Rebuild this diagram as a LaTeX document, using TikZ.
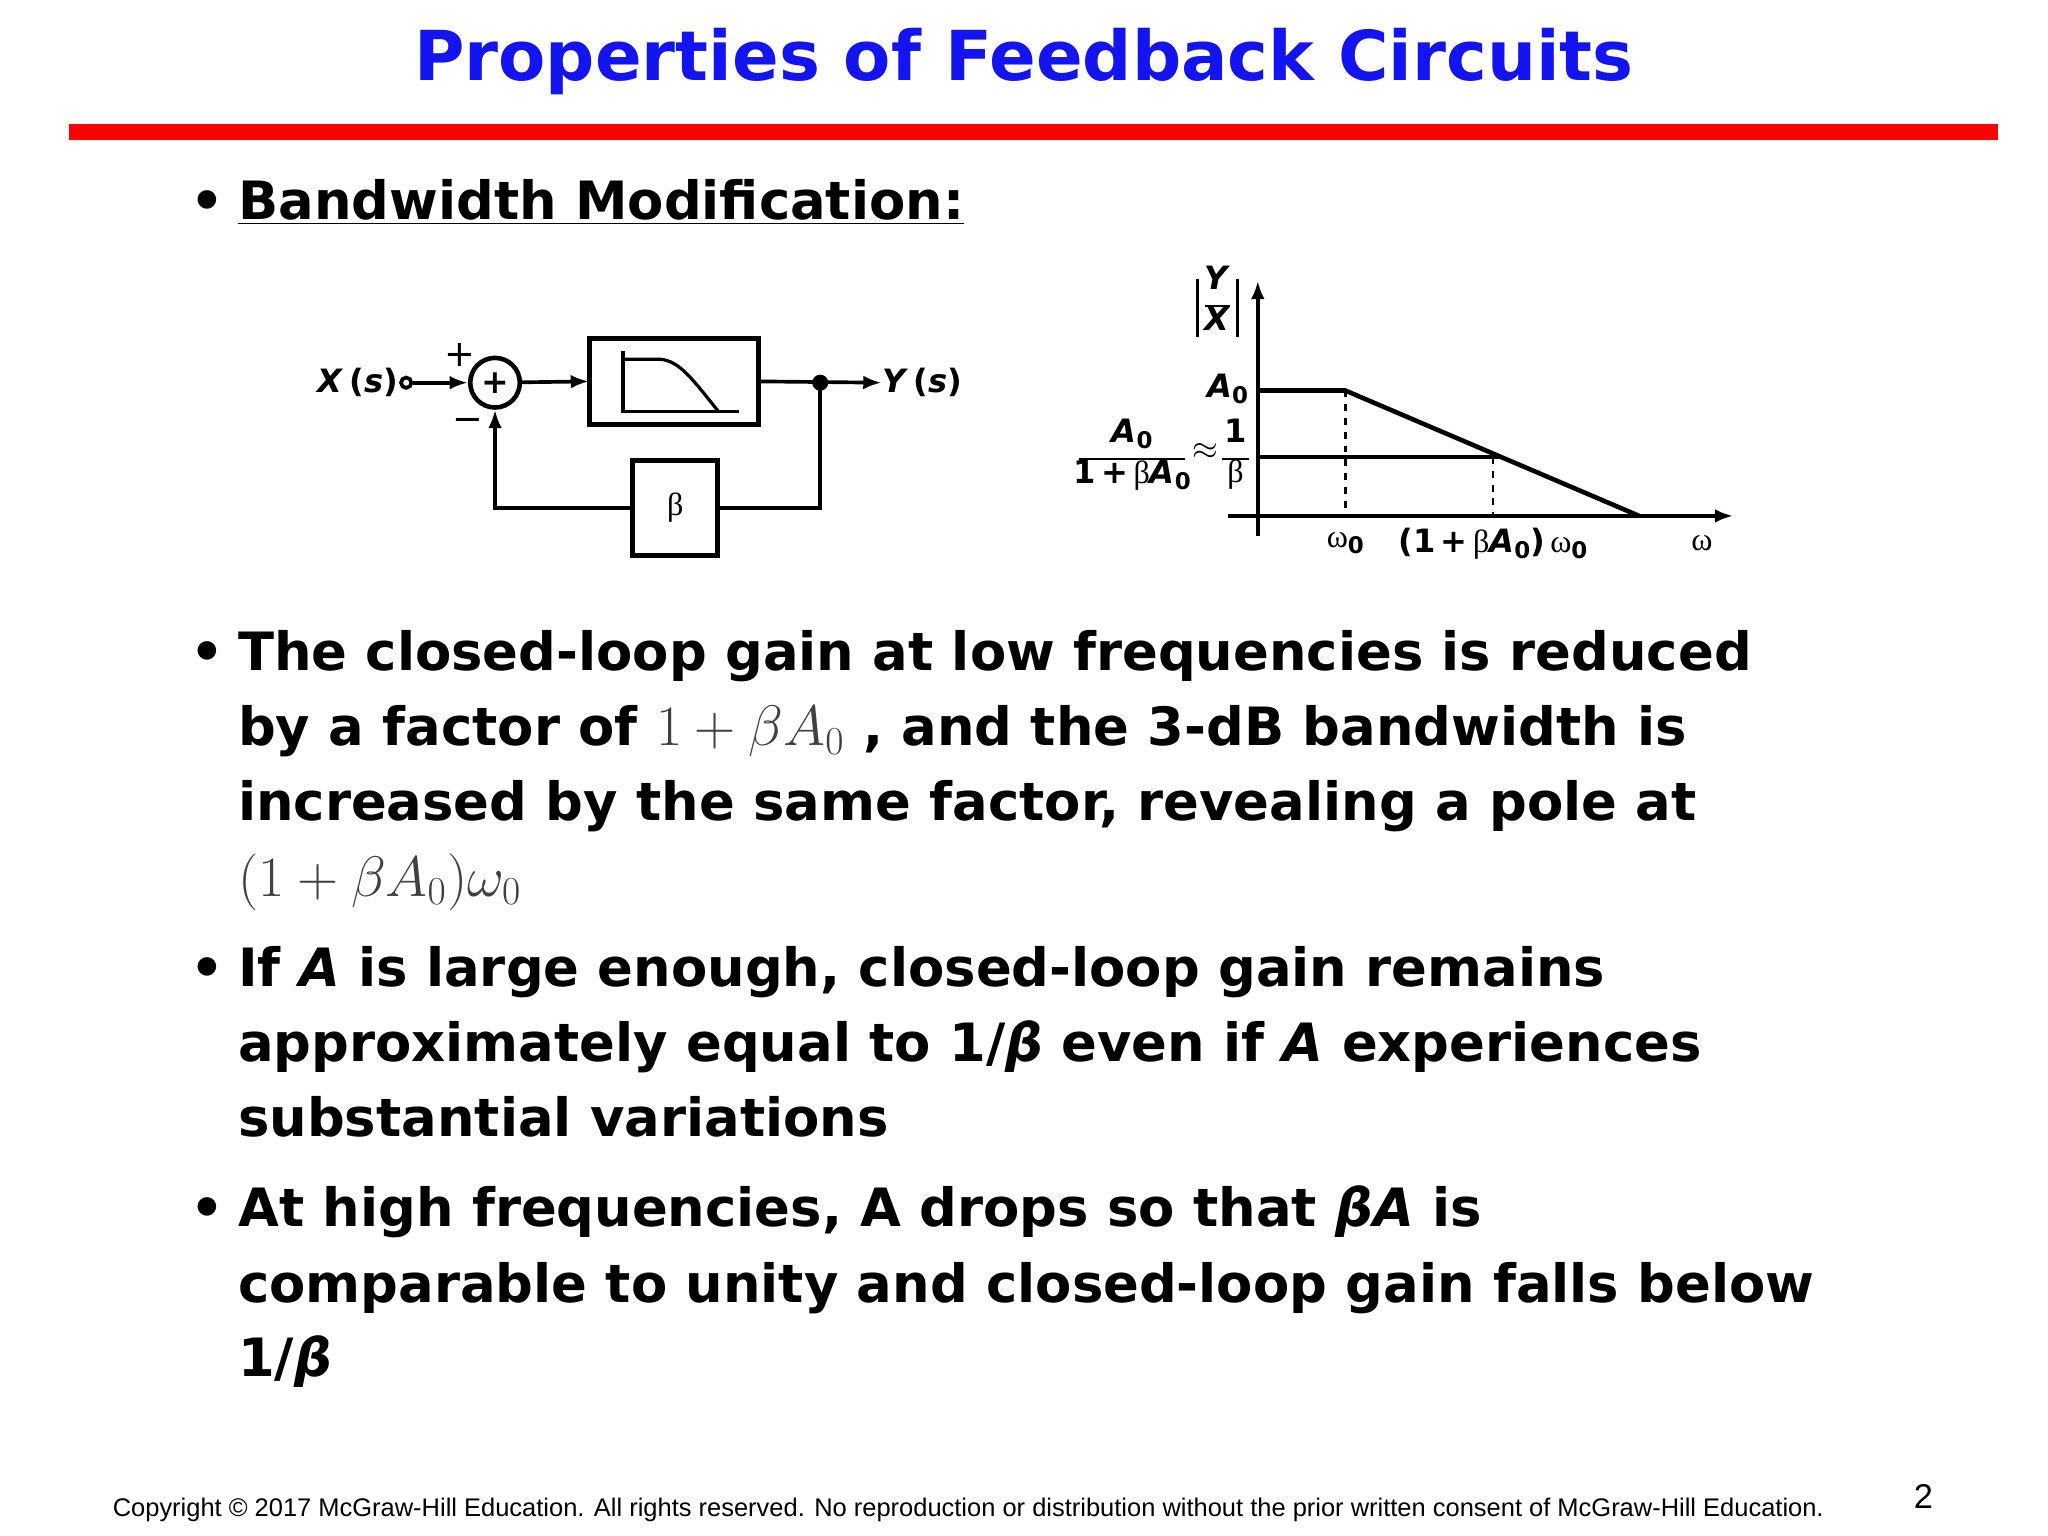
\documentclass[tikz,border=0pt]{standalone}
\usepackage{fontspec}
\setmainfont{DejaVu Sans}
\newfontfamily\arialf{Liberation Sans}
\newfontfamily\serifb{Liberation Serif}
\usetikzlibrary{arrows.meta}
\definecolor{titleblue}{RGB}{20,20,240}
\newcommand\myzero{\raisebox{-0.35ex}{\fontsize{10}{10}\selectfont 0}}
\newcommand\myb{{\serifb\mdseries β}}
\newcommand\myw{{\serifb\mdseries ω}}
\renewcommand\arraystretch{0.85}
\begin{document}
\begin{tikzpicture}[x=0.02cm,y=-0.02cm,
  body/.style={anchor=base west,inner sep=0,font=\fontsize{23}{27}\selectfont\bfseries},
  dlab/.style={inner sep=0,font=\fontsize{14}{16}\selectfont\bfseries},
  wire/.style={line width=1.6pt},
  arr/.style={wire,-{Latex[length=8pt,width=6pt]}}]
\useasboundingbox (0,0) rectangle (1568,1176);
\fill[white] (0,0) rectangle (1568,1176);
% title
\node[font=\fontsize{30}{34}\selectfont\bfseries,text=titleblue,inner sep=0] (title) at (784,47) {Properties of Feedback Circuits};
\fill[red] (53,95) rectangle (1530,107);
% heading
\node[body,anchor=base east] (b0) at (172,168) {•};
\node[body] (h0) at (182,168) {\underline{Bandwidth Modification:}};
% block diagram
\node[dlab,anchor=east] (xs) at (305,293) {\textit{X}\,(\textit{s})};
\node[circle,draw,wire,inner sep=0,minimum size=4.5pt] (xin) at (311,293) {};
\node[circle,draw,line width=2pt,minimum size=0.76cm,inner sep=0,font=\bfseries\Large] (sum) at (379,293) {+};
\draw[line width=2.2pt] (451,259) rectangle (581,325);
\coordinate (blkw) at (451,292);
\coordinate (blke) at (581,292);
\draw[line width=1.4pt] (477,269) -- (477,315) -- (566,315);
\draw[line width=1.4pt] (477,275) -- (505,275) .. controls (520,276) and (530,290) .. (550,315);
\coordinate (tap) at (628,293);
\fill (tap) circle (3.5pt);
\node[dlab,anchor=west] (ys) at (675,293) {\textit{Y}\,(\textit{s})};
\node[draw,line width=2.2pt,minimum width=1.3cm,minimum height=1.45cm,inner sep=0,font=\fontsize{14}{16}\selectfont] (beta) at (517,389) {\myb};
\draw[arr] (xin) -- (sum);
\draw[arr] (sum) -- (blkw);
\draw[arr] (blke) -- (ys.west);
\draw[wire] (tap) |- (beta.east);
\draw[arr] (beta.west) -| (sum.south);
\node[dlab,font=\fontsize{16}{16}\selectfont] (plus) at (352,272) {+};
\node[dlab,font=\fontsize{16}{16}\selectfont] (minus) at (358,325) {−};
% graph
\coordinate (o) at (963,410);
\coordinate (ytop) at (963,215);
\coordinate (hx0) at (940,395);
\coordinate (hx1) at (1327,395);
\draw[arr] (o) -- (ytop);
\draw[arr] (hx0) -- (hx1);
\coordinate (k1) at (1030,299);
\coordinate (k2) at (1149,350);
\coordinate (end) at (1255,395);
\draw[line width=2pt] (963,299) -- (k1) -- (end);
\draw[line width=2pt] (963,350) -- (k2);
\draw[dashed,line width=1.2pt] (k1) -- (1030,395);
\draw[dashed,line width=1.2pt] (1143,350) -- (1143,395);
\node[dlab] (yx) at (932,232) {\rule[-11pt]{1.3pt}{25pt}\,\begin{tabular}{@{}c@{}}\textit{Y}\\[-6pt]\rule{11pt}{1pt}\\[-4pt]\textit{X}\end{tabular}\,\rule[-11pt]{1.3pt}{25pt}};
\node[dlab] (a0) at (940,298) {\textit{A}\myzero};
\node[dlab,anchor=east] (fracl) at (912,349) {\begin{tabular}{@{}c@{}}\textit{A}\myzero\\[-6pt]\rule{46pt}{0.8pt}\\[-4pt]1\,+\,\myb\textit{A}\myzero\end{tabular}};
\node[dlab] (approx) at (923,346) {$\approx$};
\node[dlab] (fracr) at (946,349) {\begin{tabular}{@{}c@{}}1\\[-6pt]\rule{12pt}{0.8pt}\\[-4pt]\myb\end{tabular}};
\node[dlab] (w0) at (1030,416) {\myw\myzero};
\node[dlab] (w1) at (1143,416) {(1\,+\,\myb\textit{A}\myzero)\,\myw\myzero};
\node[dlab] (w) at (1303,416) {\myw};
% body text
\foreach \y in {513,755,939} \node[body,anchor=base east] at (172,\y) {•};
\node[body] (l1) at (182,513) {The closed-loop gain at low frequencies is reduced};
\node[body] (l2) at (182,571) {by a factor of {\color{black!75}\mdseries$1+\beta A_0$} , and the 3-dB bandwidth is};
\node[body] (l3) at (182,628) {increased by the same factor, revealing a pole at};
\node[body] (l4) at (182,686) {{\color{black!75}\mdseries$(1+\beta A_0)\omega_0$}};
\node[body] (l5) at (182,755) {If \textit{A} is large enough, closed-loop gain remains};
\node[body] (l6) at (182,813) {approximately equal to 1/\textit{β} even if \textit{A} experiences};
\node[body] (l7) at (182,870) {substantial variations};
\node[body] (l8) at (182,939) {At high frequencies, A drops so that \textit{βA} is};
\node[body] (l9) at (182,997) {comparable to unity and closed-loop gain falls below};
\node[body] (l10) at (182,1054) {1/\textit{β}};
% footer
\node[inner sep=0,anchor=base west,font=\arialf\fontsize{11.1}{12}\selectfont] (copy) at (86,1161) {Copyright © 2017 McGraw-Hill Education. All rights reserved. No reproduction or distribution without the prior written consent of McGraw-Hill Education.};
\node[inner sep=0,anchor=base west,font=\arialf\fontsize{15}{17}\selectfont] (pg) at (1465,1155) {2};
\end{tikzpicture}
\end{document}
